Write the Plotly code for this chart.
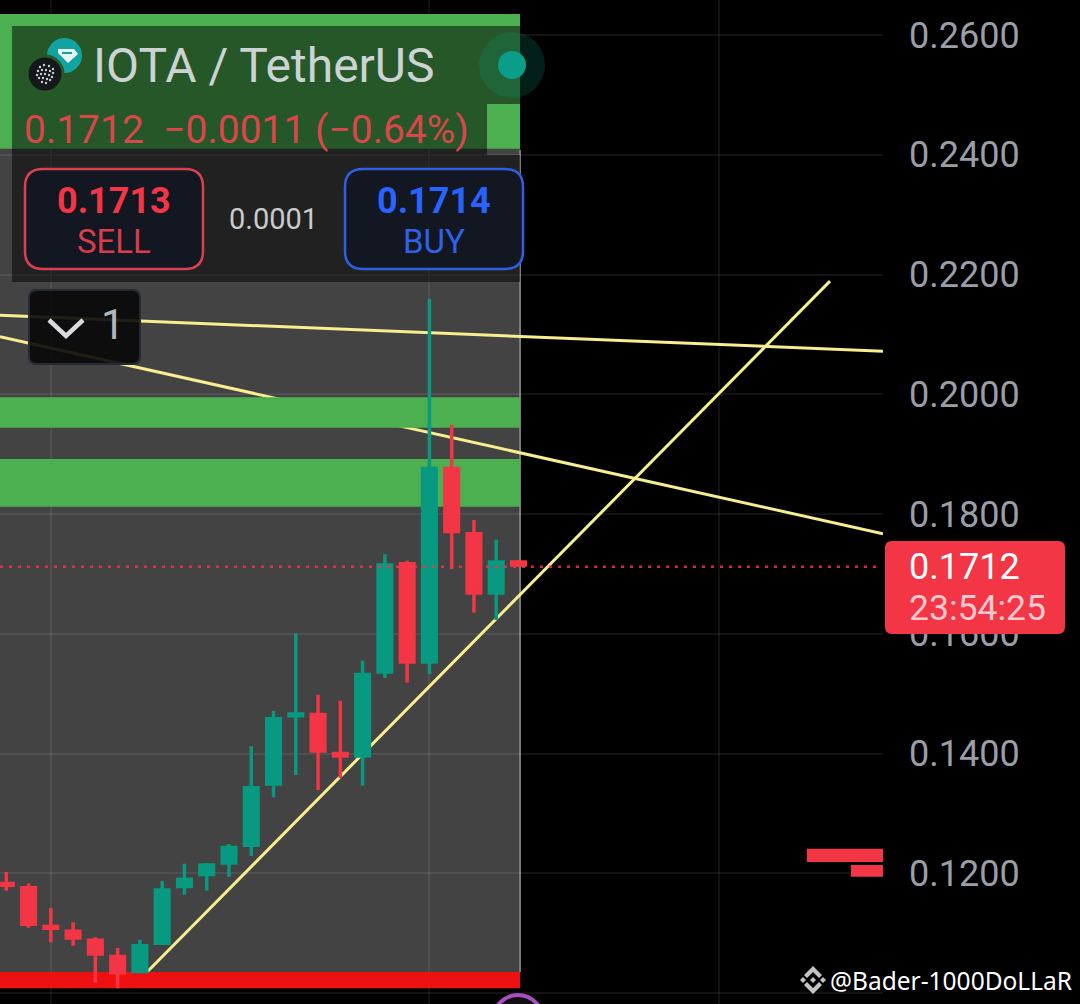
import plotly.graph_objects as go

# candle data
bars = list(range(24))
opens = [0.1183, 0.1176, 0.1111, 0.1103, 0.1088, 0.1061, 0.1036, 0.1083, 0.1178, 0.1198, 0.1217, 0.1247,
         0.1349, 0.1463, 0.1465, 0.1400, 0.1396, 0.1536, 0.1717, 0.1553, 0.1876, 0.1767, 0.1668, 0.1720]
closes = [0.1180, 0.1115, 0.1108, 0.1092, 0.1065, 0.1034, 0.1079, 0.1172, 0.1190, 0.1214, 0.1243, 0.1343,
          0.1458, 0.1466, 0.1404, 0.1396, 0.1532, 0.1715, 0.1553, 0.1876, 0.1771, 0.1668, 0.1720, 0.1715]
highs = [0.1202, 0.1183, 0.1142, 0.1118, 0.1093, 0.1075, 0.1089, 0.1187, 0.1216, 0.1217, 0.1249, 0.1412,
         0.1471, 0.1601, 0.1498, 0.1488, 0.1555, 0.1733, 0.1722, 0.2159, 0.1949, 0.1790, 0.1757, 0.1723]
lows = [0.1171, 0.1109, 0.1085, 0.1079, 0.1017, 0.1008, 0.1033, 0.1080, 0.1164, 0.1171, 0.1194, 0.1229,
        0.1327, 0.1364, 0.1339, 0.1359, 0.1346, 0.1526, 0.1518, 0.1533, 0.1708, 0.1635, 0.1623, 0.1712]

last_price = 0.1712
price_ticks = [0.10, 0.12, 0.14, 0.16, 0.18, 0.20, 0.22, 0.24, 0.26]
time_grid = [2, 19, 32]

# trend lines: (bar, price) end points
line_a_x = [-0.283, 39.37]
line_a_y = [0.2132, 0.2072]
line_b_x = [-0.283, 39.37]
line_b_y = [0.2096, 0.1767]
line_c_x = [6.32, 36.99]
line_c_y = [0.1035, 0.2189]

# price zones: low, high, colour
zone_left, zone_right = -0.283, 23.07
zones = [(0.2410, 0.2635, '#4caf50'),
         (0.1944, 0.1995, '#4caf50'),
         (0.1812, 0.1892, '#4caf50'),
         (0.1008, 0.1035, '#ee1111')]

# depth bars near the right edge: low, high, left bar
depth = [(0.1219, 0.1241, 35.95), (0.1194, 0.1214, 37.93)]
axis_end = 39.37

W, H, PLOT_W = 1080, 1004, 883
GREEN, RED = '#089981', '#f23645'
YELLOW = '#f7ee8f'
GRID = 'rgba(255,255,255,0.07)'
FONT = 'Roboto'


def px(x):
    return x / PLOT_W


def py(y):
    return 1 - y / H


def rect_path(x0, y0, x1, y1, r):
    return (f'M {px(x0 + r)} {py(y0)} L {px(x1 - r)} {py(y0)} Q {px(x1)} {py(y0)} {px(x1)} {py(y0 + r)} '
            f'L {px(x1)} {py(y1 - r)} Q {px(x1)} {py(y1)} {px(x1 - r)} {py(y1)} L {px(x0 + r)} {py(y1)} '
            f'Q {px(x0)} {py(y1)} {px(x0)} {py(y1 - r)} L {px(x0)} {py(y0 + r)} Q {px(x0)} {py(y0)} {px(x0 + r)} {py(y0)} Z')


def box(x0, y0, x1, y1, fill, line=None, width=0, r=0, layer='above'):
    if r:
        return dict(type='path', xref='paper', yref='paper', path=rect_path(x0, y0, x1, y1, r), fillcolor=fill,
                    line=dict(color=line or fill, width=width), layer=layer)
    return dict(type='rect', xref='paper', yref='paper', x0=px(x0), x1=px(x1), y0=py(y0), y1=py(y1),
                fillcolor=fill, line=dict(width=width, color=line or fill), layer=layer)


def circle(cx, cy, r, fill, line=None, width=0):
    return dict(type='circle', xref='paper', yref='paper', x0=px(cx - r), x1=px(cx + r), y0=py(cy + r), y1=py(cy - r),
                fillcolor=fill, line=dict(width=width, color=line or fill), layer='above')


def poly(points, fill=None, line=None, width=0):
    path = 'M ' + ' L '.join(f'{px(x)} {py(y)}' for x, y in points)
    if fill:
        path += ' Z'
    return dict(type='path', xref='paper', yref='paper', path=path, fillcolor=fill or 'rgba(0,0,0,0)',
                line=dict(color=line or fill, width=width), layer='above')


def label(text, x, y, size, color, anchor='left', bold=False, family=FONT):
    weight = 'bold' if bold else 'normal'
    return dict(text=text, x=px(x), y=py(y), xref='paper', yref='paper', xanchor=anchor, yanchor='middle',
                showarrow=False, font=dict(family=family, size=size, color=color, weight=weight))


fig = go.Figure()

# yellow lines sit under the green zones, candles sit over both
for lx, ly in [(line_a_x, line_a_y), (line_b_x, line_b_y), (line_c_x, line_c_y)]:
    fig.add_trace(go.Scatter(x=lx, y=ly, mode='lines', line=dict(color=YELLOW, width=3), hoverinfo='skip'))

for low, high, color in zones:
    fig.add_trace(go.Scatter(x=[zone_left, zone_right, zone_right, zone_left], y=[low, low, high, high],
                             mode='lines', fill='toself', fillcolor=color, line=dict(width=0), hoverinfo='skip'))

for low, high, left in depth:
    fig.add_trace(go.Scatter(x=[left, axis_end, axis_end, left], y=[low, low, high, high],
                             mode='lines', fill='toself', fillcolor=RED, line=dict(width=0), hoverinfo='skip'))

fig.add_trace(go.Candlestick(
    x=bars, open=opens, high=highs, low=lows, close=closes, yaxis='y2', whiskerwidth=0,
    increasing=dict(line=dict(color=GREEN, width=3.5), fillcolor=GREEN),
    decreasing=dict(line=dict(color=RED, width=3.5), fillcolor=RED),
))

fig.add_trace(go.Scatter(x=[-0.283, 39.15], y=[last_price, last_price], yaxis='y2', mode='lines',
                         line=dict(color='rgba(242,54,69,0.85)', width=2.5, dash='3px,6px'), hoverinfo='skip'))

shapes = [
    # grey session panel and its right edge
    box(0, 14, 520, 972, '#434343', layer='below'),
    box(519, 150, 521, 972, '#7a7a7a', layer='below'),
    # translucent header panel with the notch at the right
    dict(type='path', xref='paper', yref='paper', fillcolor='rgba(0,0,0,0.5)', line=dict(width=0), layer='above',
         path=(f'M {px(12)} {py(26)} L {px(520)} {py(26)} L {px(520)} {py(104)} L {px(487)} {py(104)} '
               f'L {px(487)} {py(155)} L {px(520)} {py(155)} L {px(520)} {py(282)} L {px(12)} {py(282)} Z')),
    # status dot
    circle(512, 65, 33, 'rgba(8,153,129,0.2)'),
    circle(512, 65, 14, '#0a9e88'),
    # coin icons
    circle(64.5, 55.5, 17.5, '#12a3a0'),
    poly([(58, 49), (74, 49), (78, 54), (68, 63), (58, 53)], fill='#e8f4f3'),
    poly([(62, 53), (72, 53)], line='#12a3a0', width=2),
    circle(45, 74, 18, '#14181b', '#265828', 3),
    # sell and buy boxes
    box(25, 169, 203, 269, '#131722', '#d9414f', 2.5, 18),
    box(345, 169, 523, 269, '#131722', '#2f5fe0', 2.5, 18),
    # dropdown
    box(29, 290, 140, 364, 'rgba(8,8,8,0.9)', '#262a33', 2, 8),
    poly([(49, 320), (66, 336), (83, 320)], line='#d8dade', width=4.5),
    # last price tag
    box(885, 541, 1065, 634, RED, r=7),
    # purple avatar ring, cut by the bottom of the page
    circle(518, 1020, 25, '#101010', '#a94fc0', 4),
    # watermark logo
    poly([(813, 966), (822, 975), (819, 978), (813, 972), (807, 978), (804, 975)], fill='#c4c4c4'),
    poly([(813, 994), (822, 985), (819, 982), (813, 988), (807, 982), (804, 985)], fill='#c4c4c4'),
]
# iota dots
for dx, dy in [(-5, -7), (-1, -9), (4, -8), (8, -5), (-7, -3), (-3, -4), (1, -4), (5, -3), (8, -1), (-8, 1), (-4, 0),
               (0, 0), (4, 1), (7, 3), (-6, 4), (-2, 4), (2, 5), (5, 6), (-3, 8), (1, 9)]:
    shapes.append(circle(45 + dx, 74 + dy, 1.2, '#c9cdd0'))
for cx, cy in [(803, 980), (823, 980), (813, 980)]:
    shapes.append(poly([(cx, cy - 3), (cx + 3, cy), (cx, cy + 3), (cx - 3, cy)], fill='#c4c4c4'))

annotations = [
    label('IOTA / TetherUS', 91, 66, 48, '#ccd3d3'),
    label('0.1712  −0.0011 (−0.64%)', 22, 130, 39, '#d9474a'),
    label('0.1713', 114, 201, 36, '#f23645', 'center', True),
    label('SELL', 114, 241, 33, '#d93c4b', 'center'),
    label('0.0001', 273, 219, 29, '#c9cbce', 'center'),
    label('0.1714', 434, 201, 36, '#2962ff', 'center', True),
    label('BUY', 434, 241, 33, '#2f62e6', 'center'),
    label('1', 113, 325, 42, '#b2b5be', 'center'),
    label('0.1712', 907, 567, 36, '#ffffff'),
    label('23:54:25', 907, 608, 35.5, '#fbc9ce'),
    label('@Bader-1000DoLLaR', 828, 980, 24.5, '#ffffff', family='Noto Sans'),
]

fig.update_layout(
    width=W,
    height=H,
    margin=dict(l=0, r=W - PLOT_W, t=0, b=0, autoexpand=False),
    paper_bgcolor='#000000',
    plot_bgcolor='#000000',
    showlegend=False,
    boxgap=0.39,
    boxgroupgap=0,
    xaxis=dict(range=[-0.283, axis_end], tickmode='array', tickvals=time_grid, showticklabels=False, ticks='',
               showgrid=True, gridcolor=GRID, gridwidth=2, zeroline=False, showline=False,
               rangeslider=dict(visible=False)),
    yaxis=dict(range=[0.098167, 0.265845], side='right', tickmode='array', tickvals=price_ticks,
               tickformat='.4f', ticks='', ticklabelstandoff=25, automargin=False,
               tickfont=dict(family=FONT, size=36, color='#9a9ea6'),
               showgrid=True, gridcolor=GRID, gridwidth=2, zeroline=False, showline=False),
    yaxis2=dict(range=[0.098167, 0.265845], overlaying='y', visible=False),
    shapes=shapes,
    annotations=annotations,
)

fig.write_html("out.html", config=dict(displayModeBar=False), post_script="document.body.style.margin = '0';")
